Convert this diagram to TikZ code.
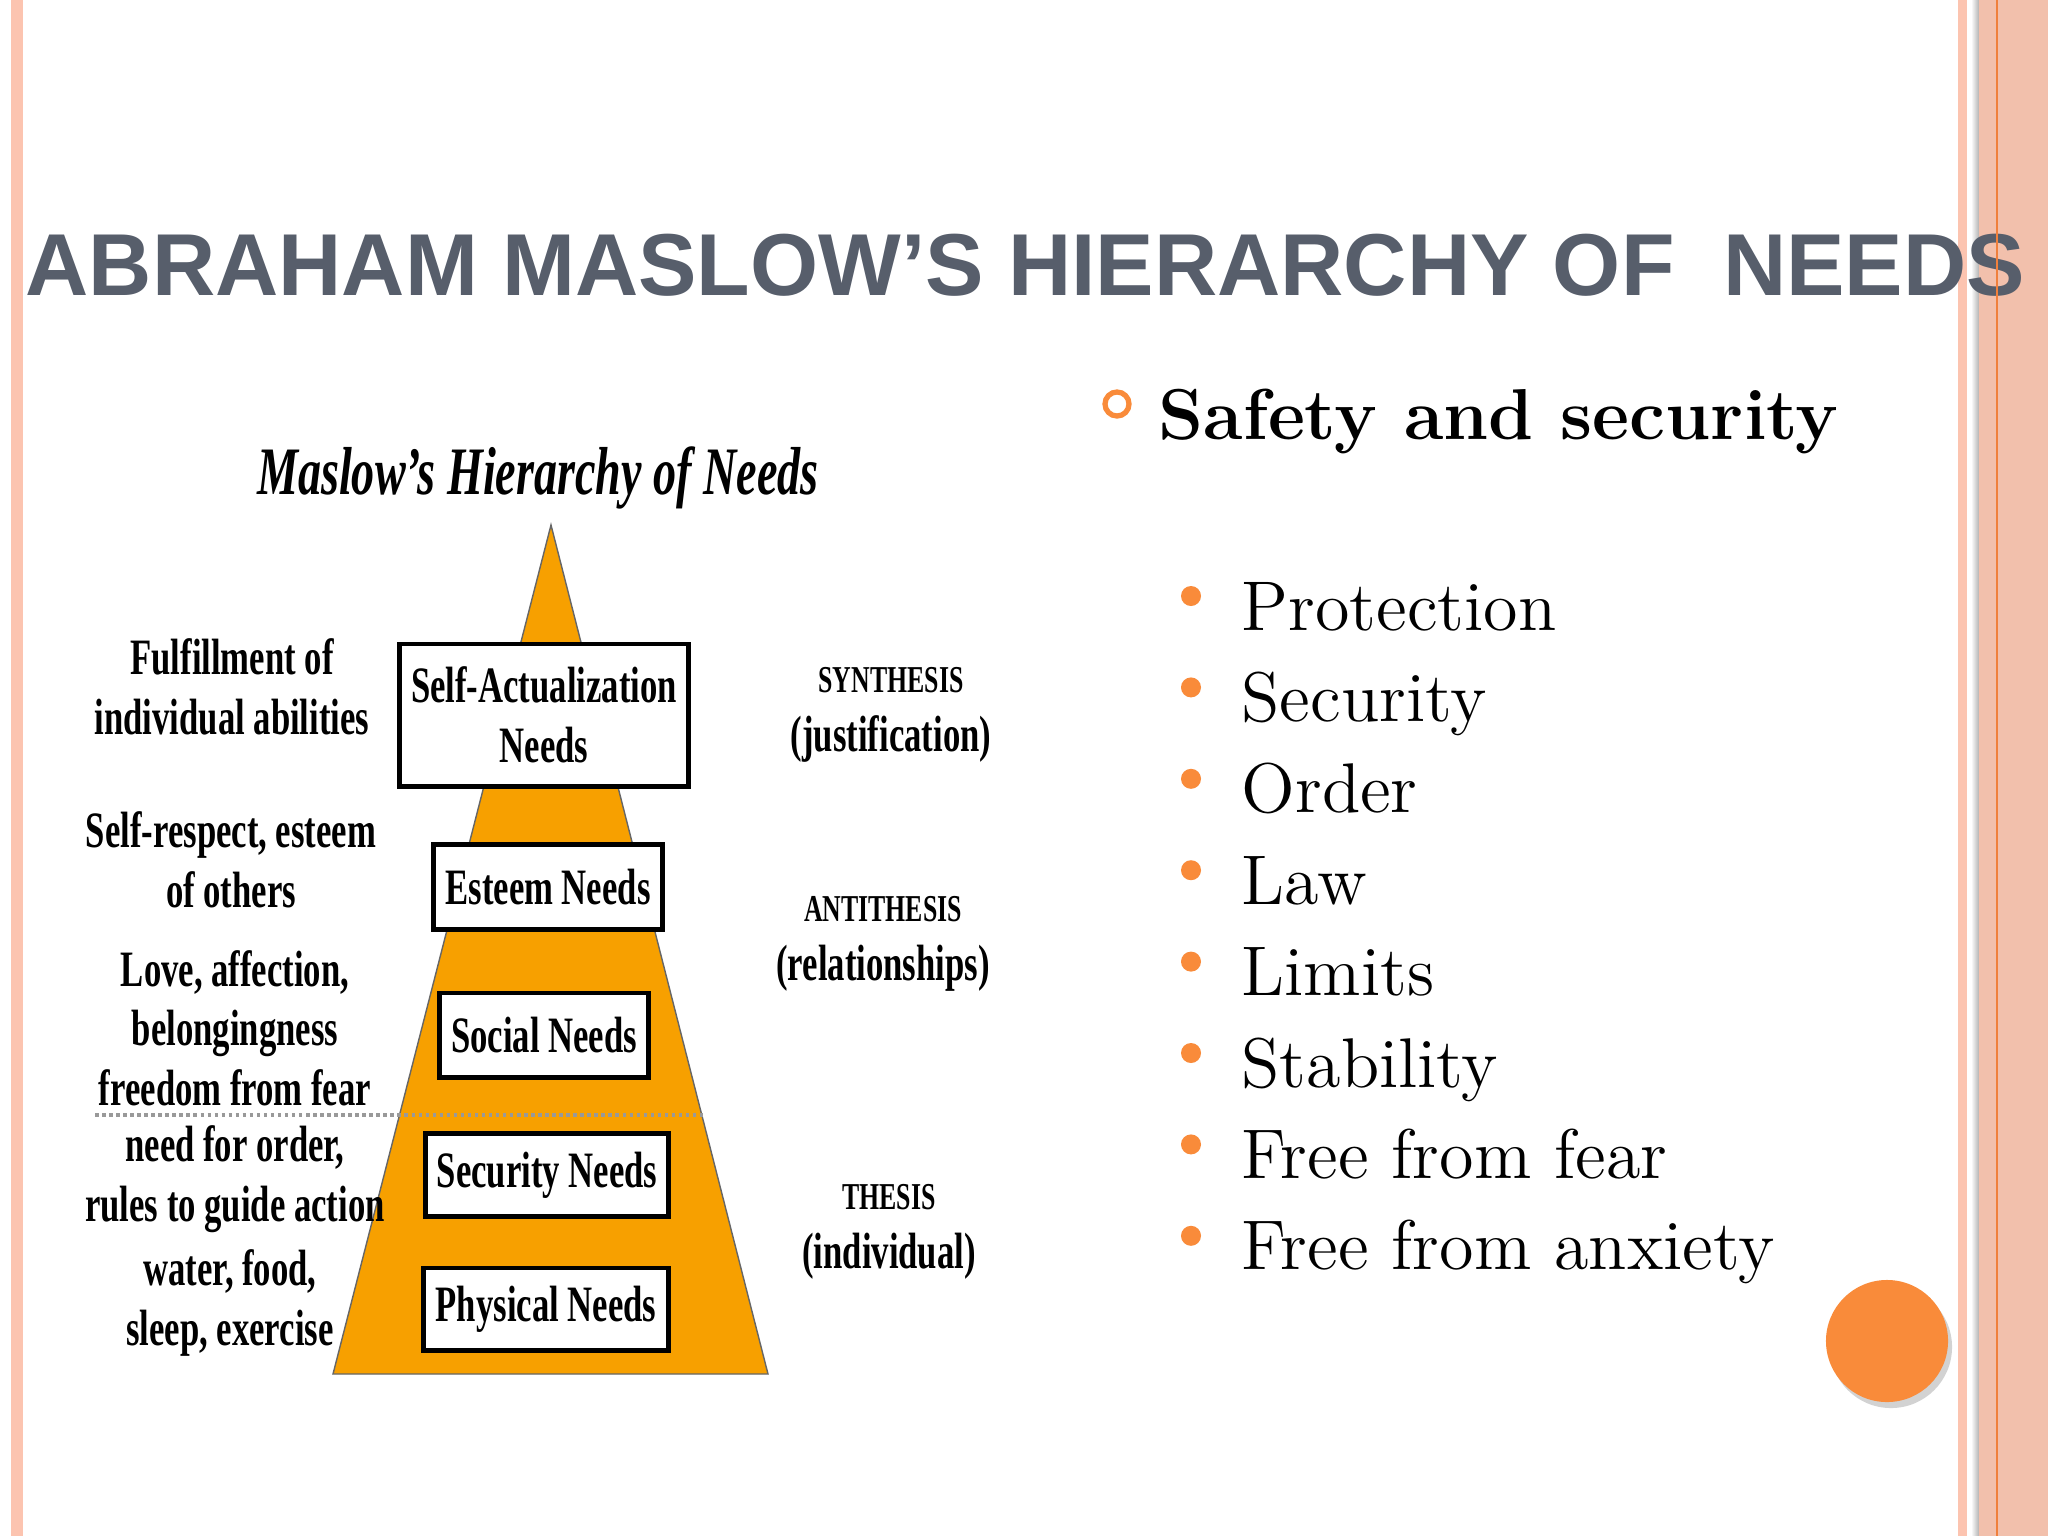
\documentclass[tikz,border=0pt]{standalone}
\usepackage{fontspec}
\usepackage{graphicx}
\usetikzlibrary{shadows}
\newfontfamily\titlefont[FakeStretch=0.996]{Liberation Sans}
\newfontfamily\picfont[FakeStretch=0.68]{Liberation Serif}
\newfontfamily\itemfont{lmroman12-regular}[Extension=.otf]
\definecolor{slidepink}{RGB}{252,196,176}
\definecolor{slidesalmon}{RGB}{242,192,172}
\definecolor{lineorange}{RGB}{240,128,60}
\definecolor{titlegray}{RGB}{87,94,107}
\definecolor{pyrorange}{RGB}{247,160,0}
\definecolor{dotorange}{RGB}{249,139,58}
\tikzset{
  needbox/.style={draw=black, line width=1.4pt, fill=white, inner sep=0pt, align=center,
    font=\picfont\bfseries\fontsize{14.5}{16.9}\selectfont},
  sidelabel/.style={align=center, inner sep=0pt, font=\picfont\bfseries\fontsize{14.5}{16.9}\selectfont},
  phaselabel/.style={align=center, inner sep=0pt, font=\picfont\bfseries\fontsize{14.5}{16.6}\selectfont},
  itemtext/.style={anchor=base west, inner sep=0pt, font=\itemfont\fontsize{20}{24}\selectfont},
  itemdot/.style={circle, fill=dotorange, inner sep=0pt, minimum size=0.2cm}
}
\newcommand{\capsline}[1]{{\fontsize{10.8}{12}\selectfont #1}}

\begin{document}
\begin{tikzpicture}[x=0.01cm, y=-0.01cm]
  \fill[white] (0,0) rectangle (2048,1536);
  \useasboundingbox (0,0) rectangle (2048,1536);
  % slide borders
  \fill[slidepink] (11,0) rectangle (23,1536);
  \fill[slidepink] (1958,0) rectangle (1967,1536);
  \shade[left color=white, right color=black!30] (1971,0) rectangle (1979,1536);
  \fill[slidesalmon] (1979,0) rectangle (2048,1536);
  \node[anchor=base west, inner sep=0pt, text=titlegray,
    font=\titlefont\bfseries\fontsize{25}{29}\selectfont] (title) at (25,295)
    {ABRAHAM MASLOW’S HIERARCHY OF\ \ NEEDS};
  \draw[lineorange, line width=0.4pt] (1997,0) -- (1997,1536);

  % pyramid picture
  \node[anchor=base, inner sep=0pt, font=\picfont\bfseries\itshape\fontsize{19.3}{22}\selectfont]
    (pictitle) at (538,494) {Maslow’s Hierarchy of Needs};
  \filldraw[fill=pyrorange, draw=black!60, line width=0.4pt] (551,525) -- (768,1374) -- (333,1374) -- cycle;
  \draw[black!40, line width=1pt, dash pattern=on 1pt off 1pt] (95,1115) -- (705,1115);

  \node[needbox, minimum width=2.88cm, minimum height=1.42cm] (selfact) at (544,715) {Self-Actualization\\Needs};
  \node[needbox, minimum width=2.28cm, minimum height=0.85cm] (esteem) at (548,887) {Esteem Needs};
  \node[needbox, minimum width=2.09cm, minimum height=0.84cm] (social) at (544,1035) {Social Needs};
  \node[needbox, minimum width=2.43cm, minimum height=0.83cm] (security) at (547,1175) {Security Needs};
  \node[needbox, minimum width=2.45cm, minimum height=0.82cm] (physical) at (546,1309) {Physical Needs};

  \node[sidelabel] (fulfil) at (232,687) {Fulfillment of\\individual abilities};
  \node[sidelabel] (respect) at (231,860) {Self-respect, esteem\\of others};
  \node[sidelabel] (love) at (235,1028) {Love, affection,\\belongingness\\freedom from fear};
  \node[sidelabel] (order) at (235,1179) {need for order,\\rules to guide action};
  \node[sidelabel] (water) at (230,1303) {water, food,\\sleep, exercise};

  \node[phaselabel] (synth) at (891,715) {\capsline{SYNTHESIS}\\(justification)};
  \node[phaselabel] (anti) at (883,944) {\capsline{ANTITHESIS}\\(relationships)};
  \node[phaselabel] (thesis) at (889,1232) {\capsline{THESIS}\\(individual)};

  % bullet list
  \node[circle, draw=dotorange, line width=1.5pt, minimum size=0.24cm, inner sep=0pt] (ring) at (1117,404) {};
  \node[anchor=base west, inner sep=0pt, font=\bfseries\fontsize{20.5}{24}\selectfont] (safety) at (1158,439) {Safety and security};
  \foreach \txt [count=\i from 0] in {Protection,Security,Order,Law,Limits,Stability,Free from fear,Free from anxiety}{
    \node[itemtext] (item\i) at (1241,630+91.4*\i) {\txt};
    \node[itemdot] (dot\i) at (1191,596+91.4*\i) {};
  }

  \node[circle, fill=dotorange, minimum size=1.22cm, inner sep=0pt,
    drop shadow={opacity=0.35, shadow xshift=0.04cm, shadow yshift=-0.06cm}] (bigdot) at (1887,1341) {};
\end{tikzpicture}
\end{document}
